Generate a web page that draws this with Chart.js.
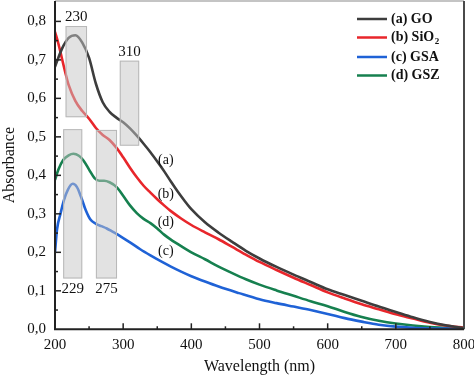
<!DOCTYPE html>
<html><head><meta charset="utf-8">
<script src="https://cdn.jsdelivr.net/npm/chart.js@4.4.0/dist/chart.umd.min.js"></script>
<style>html,body{margin:0;padding:0;background:#fff}</style>
</head><body>
<canvas id="c" width="474" height="378"></canvas>
<script>
// ---- data ----
const seriesNames = ['(a) GO', '(b) SiO', '(c) GSA', '(d) GSZ'];
const curveTags = ['(a)', '(b)', '(c)', '(d)'];

const goX = [200,210,220,230,240,250,260,270,280,290,300,310,320,330,340,350,360,370,380,390,400,420,440,460,480,500,525,550,575,600,625,650,675,700,725,750,775,800];
const goY = [0.682,0.728,0.757,0.764,0.745,0.705,0.638,0.590,0.565,0.550,0.538,0.522,0.503,0.482,0.460,0.436,0.411,0.384,0.358,0.334,0.312,0.278,0.251,0.227,0.204,0.184,0.162,0.142,0.123,0.104,0.089,0.074,0.059,0.045,0.031,0.019,0.010,0.003];

const sioX = [200,205,210,215,220,230,240,250,260,270,280,290,300,310,320,330,340,350,360,370,385,400,420,440,460,480,500,525,550,575,600,625,650,675,700,725,750,775,800];
const sioY = [0.773,0.742,0.705,0.668,0.635,0.593,0.567,0.547,0.523,0.505,0.492,0.472,0.447,0.420,0.395,0.373,0.355,0.338,0.322,0.307,0.288,0.271,0.252,0.234,0.214,0.194,0.175,0.154,0.134,0.115,0.096,0.080,0.065,0.052,0.039,0.028,0.017,0.009,0.004];

const gsaX = [200,203,208,213,219,226,232,238,245,252,260,268,276,285,295,310,325,340,355,370,385,400,420,440,470,500,525,550,575,600,625,650,675,700,750,800];
const gsaY = [0.200,0.260,0.300,0.335,0.363,0.378,0.370,0.345,0.310,0.285,0.274,0.268,0.262,0.253,0.243,0.226,0.208,0.192,0.177,0.163,0.150,0.138,0.124,0.111,0.094,0.078,0.068,0.059,0.050,0.040,0.029,0.020,0.012,0.007,0.002,0.002];

const gszX = [200,205,212,220,227,235,242,250,258,265,272,280,290,300,310,320,330,340,350,360,370,385,400,420,440,460,480,500,525,550,575,600,625,650,675,700,750,800];
const gszY = [0.388,0.415,0.440,0.452,0.456,0.451,0.438,0.415,0.393,0.386,0.386,0.382,0.370,0.347,0.322,0.302,0.287,0.276,0.262,0.246,0.233,0.216,0.200,0.182,0.163,0.146,0.130,0.116,0.101,0.087,0.073,0.060,0.045,0.032,0.022,0.015,0.006,0.002];

// highlighted peak regions
const peakLabels = ['230', '310', '229', '275'];
const peakWlFrom = [215.5, 295, 212, 260];
const peakWlTo   = [247, 323.5, 240, 291];
const peakAbsLow = [0.551, 0.477, 0.132, 0.132];
const peakAbsHigh= [0.788, 0.698, 0.520, 0.518];
const peakLabelAbove = [true, true, false, false];

// curve tag positions (data coordinates)
const tagWl = [362.6, 362.6, 362.6, 362.6];
const tagAbs = [0.438, 0.351, 0.202, 0.277];

const xTicks = [200,300,400,500,600,700,800];
const yTicks = [0,0.1,0.2,0.3,0.4,0.5,0.6,0.7,0.8];

// ---- styles ----
const colors = ['#3d3d3d', '#e8262b', '#1f62d6', '#16804f'];
const SERIF = '"Liberation Serif", "DejaVu Serif", serif';

function pts(xs, ys) { return xs.map((x, i) => ({x: x, y: ys[i]})); }

const decor = {
  id: 'decor',
  afterDatasetsDraw(chart) {
    const ctx = chart.ctx, xs = chart.scales.x, ys = chart.scales.y, a = chart.chartArea;
    ctx.save();
    for (let i = 0; i < peakLabels.length; i++) {
      const x0 = xs.getPixelForValue(peakWlFrom[i]), x1 = xs.getPixelForValue(peakWlTo[i]);
      const y0 = ys.getPixelForValue(peakAbsHigh[i]), y1 = ys.getPixelForValue(peakAbsLow[i]);
      ctx.fillStyle = 'rgba(198,198,198,0.5)';
      ctx.fillRect(x0, y0, x1 - x0, y1 - y0);
      ctx.strokeStyle = '#b8b8b8';
      ctx.lineWidth = 1;
      ctx.strokeRect(x0 + 0.5, y0 + 0.5, x1 - x0 - 1, y1 - y0 - 1);
      ctx.fillStyle = '#111';
      ctx.font = '15px ' + SERIF;
      ctx.textAlign = 'center';
      if (peakLabelAbove[i]) { ctx.textBaseline = 'bottom'; ctx.fillText(peakLabels[i], (x0 + x1) / 2, y0 - 1); }
      else { ctx.textBaseline = 'top'; ctx.fillText(peakLabels[i], (x0 + x1) / 2, y1 + 3); }
    }
    ctx.font = '14px ' + SERIF;
    ctx.textAlign = 'center'; ctx.textBaseline = 'middle'; ctx.fillStyle = '#111';
    for (let i = 0; i < curveTags.length; i++) {
      ctx.fillText(curveTags[i], xs.getPixelForValue(tagWl[i]), ys.getPixelForValue(tagAbs[i]));
    }
    const lx0 = 357, lx1 = 387, rows = [19, 37.5, 57, 75.5];
    ctx.textAlign = 'left'; ctx.textBaseline = 'middle';
    for (let i = 0; i < seriesNames.length; i++) {
      ctx.strokeStyle = colors[i]; ctx.lineWidth = 2.5;
      ctx.beginPath(); ctx.moveTo(lx0, rows[i]); ctx.lineTo(lx1, rows[i]); ctx.stroke();
      ctx.fillStyle = '#111';
      ctx.font = 'bold 14px ' + SERIF;
      ctx.fillText(seriesNames[i], 391, rows[i]);
      if (i === 1) {
        const w = ctx.measureText(seriesNames[i]).width;
        ctx.font = 'bold 9px ' + SERIF;
        ctx.fillText('2', 391 + w + 0.5, rows[i] + 4);
      }
    }
    ctx.lineWidth = 2;
    ctx.strokeStyle = '#c4c4c4';
    ctx.beginPath(); ctx.moveTo(a.left, a.top); ctx.lineTo(a.right, a.top); ctx.stroke();
    ctx.strokeStyle = '#4a4a4a';
    ctx.beginPath(); ctx.moveTo(a.right, a.top); ctx.lineTo(a.right, a.bottom); ctx.stroke();
    ctx.strokeStyle = '#222';
    ctx.beginPath(); ctx.moveTo(a.left, a.top); ctx.lineTo(a.left, a.bottom); ctx.lineTo(a.right, a.bottom); ctx.stroke();
    ctx.lineWidth = 1.5; ctx.strokeStyle = '#222';
    for (let v = 250; v < 800; v += 50) {
      const px = xs.getPixelForValue(v), len = (v % 100 === 0) ? 6 : 3;
      ctx.beginPath(); ctx.moveTo(px, a.bottom); ctx.lineTo(px, a.bottom - len); ctx.stroke();
    }
    for (let k = 1; k <= 16; k++) {
      const v = k * 0.05, py = ys.getPixelForValue(v), len = (k % 2 === 0) ? 6 : 3;
      ctx.beginPath(); ctx.moveTo(a.left, py); ctx.lineTo(a.left + len, py); ctx.stroke();
    }
    ctx.restore();
  }
};

new Chart(document.getElementById('c'), {
  type: 'line',
  data: {
    datasets: [
      {label: seriesNames[0], data: pts(goX, goY), borderColor: colors[0]},
      {label: seriesNames[1], data: pts(sioX, sioY), borderColor: colors[1]},
      {label: seriesNames[2], data: pts(gsaX, gsaY), borderColor: colors[2]},
      {label: seriesNames[3], data: pts(gszX, gszY), borderColor: colors[3]}
    ]
  },
  options: {
    responsive: false,
    animation: false,
    devicePixelRatio: 1,
    layout: {padding: {top: 1, right: 10, left: 0, bottom: 0}},
    elements: {
      line: {borderWidth: 2.6, cubicInterpolationMode: 'monotone', fill: false},
      point: {radius: 0, hoverRadius: 0}
    },
    plugins: {legend: {display: false}, tooltip: {enabled: false}},
    scales: {
      x: {
        type: 'linear', min: 200, max: 800,
        afterFit(s) { s.height = 48.7; s.paddingLeft = 0; s.paddingRight = 0; },
        afterBuildTicks(s) { s.ticks = xTicks.map(v => ({value: v})); },
        grid: {display: false, drawTicks: false},
        border: {display: false},
        ticks: {padding: 7, color: '#111', font: {family: SERIF, size: 15}, maxRotation: 0},
        title: {display: true, text: 'Wavelength (nm)', color: '#111', font: {family: SERIF, size: 16}, padding: {top: 0, bottom: 1.5}}
      },
      y: {
        type: 'linear', min: 0, max: 0.853,
        afterFit(s) { s.width = 55; s.paddingTop = 0; s.paddingBottom = 0; },
        afterBuildTicks(s) { s.ticks = yTicks.map(v => ({value: v})); },
        grid: {display: false, drawTicks: false},
        border: {display: false},
        ticks: {padding: 9, color: '#111', font: {family: SERIF, size: 15},
          callback: v => v.toFixed(1).replace('.', ',')},
        title: {display: true, text: 'Absorbance', color: '#111', font: {family: SERIF, size: 16}, padding: {top: 0, bottom: 0}}
      }
    }
  },
  plugins: [decor]
});
</script>
</body></html>
